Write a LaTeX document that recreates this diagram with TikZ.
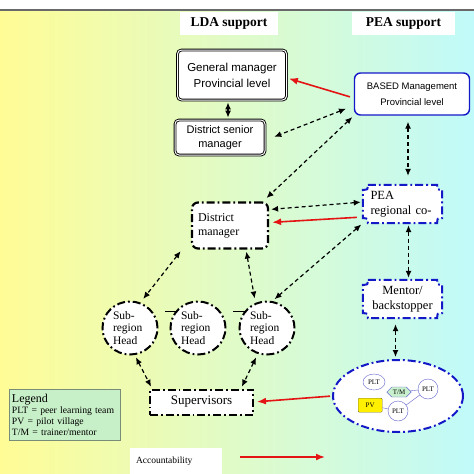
\documentclass[tikz,border=0pt]{standalone}
\usepackage{fontspec}
\setmainfont{Liberation Serif}
\setsansfont{Liberation Sans}
\usetikzlibrary{arrows.meta,positioning,shapes.geometric,shapes.symbols,backgrounds}
\definecolor{ldayellow}{RGB}{255,252,150}
\definecolor{midgreen}{RGB}{218,255,228}
\definecolor{peacyan}{RGB}{192,250,250}
\definecolor{titlegray}{RGB}{105,105,105}
\definecolor{peablue}{RGB}{20,25,200}
\definecolor{accred}{RGB}{228,20,20}
\definecolor{legendgreen}{RGB}{200,240,200}
\definecolor{legendedge}{RGB}{120,140,120}
\definecolor{pltblue}{RGB}{100,100,205}
\definecolor{tmgreen}{RGB}{200,240,205}
\definecolor{pvyellow}{RGB}{255,240,0}
\definecolor{pvedge}{RGB}{120,110,40}
\newcommand\concavepath[2]{%
  ([xshift=#2]#1.north west) -- ([xshift=-#2]#1.north east)
  .. controls ([xshift=-#2,yshift=-#2]#1.north east) .. ([yshift=-#2]#1.north east)
  -- ([yshift=#2]#1.south east)
  .. controls ([xshift=-#2,yshift=#2]#1.south east) .. ([xshift=-#2]#1.south east)
  -- ([xshift=#2]#1.south west)
  .. controls ([xshift=#2,yshift=#2]#1.south west) .. ([yshift=#2]#1.south west)
  -- ([yshift=-#2]#1.north west)
  .. controls ([xshift=#2,yshift=-#2]#1.north west) .. ([xshift=#2]#1.north west) -- cycle}
\tikzset{
    dashdot/.style={dash pattern=on 8pt off 3pt on 1.8pt off 3pt},
    headbox/.style={fill=white, minimum height=23pt, inner sep=2pt,
        font=\bfseries\fontsize{13.5}{15}\selectfont},
    provbox/.style={draw, fill=white, rounded corners=4pt, line width=0.9pt,
        double=white, double distance=1pt, align=center,
        font=\sffamily\fontsize{11.5}{16}\selectfont},
    basedbox/.style={draw=peablue, fill=white, rounded corners=6pt,
        line width=1.4pt, align=center, font=\sffamily\fontsize{9.5}{16}\selectfont},
    ldabox/.style={draw, dashdot, line width=2.2pt, fill=white, rounded corners=6pt,
        align=left, font=\fontsize{12}{14}\selectfont},
    peabox/.style={draw=none, font=\fontsize{12.5}{15}\selectfont},
    peaframe/.style={draw=peablue, dashdot, line width=2pt, fill=white},
    subhead/.style={ellipse, draw, dashdot, line width=2pt, fill=white,
        minimum width=55pt, minimum height=53pt, inner sep=0pt, text width=34pt,
        align=left, font=\fontsize{11.5}{12.5}\selectfont},
    supbox/.style={draw, dashdot, line width=2pt, fill=white,
        font=\fontsize{13}{15}\selectfont},
    legendbox/.style={draw=legendedge, fill=legendgreen, align=left, inner sep=3pt,
        font=\fontsize{9.7}{11}\selectfont},
    accbox/.style={fill=white, text width=80pt, align=left,
        font=\fontsize{9.5}{11}\selectfont},
    cluster/.style={ellipse, draw=peablue, dashdot, line width=2pt, fill=white},
    pltnode/.style={ellipse, draw=pltblue, thin, inner sep=0pt,
        font=\fontsize{7}{8}\selectfont},
    tmnode/.style={signal, signal to=east and west, draw=pltblue, fill=tmgreen,
        inner sep=1pt, minimum width=22pt, minimum height=10pt,
        font=\fontsize{7}{8}\selectfont},
    pvnode/.style={draw=pvedge, fill=pvyellow, rounded corners=1pt,
        minimum width=24pt, minimum height=14pt, inner sep=1pt,
        font=\fontsize{7}{8}\selectfont},
    linkarrow/.style={{Latex[length=7pt,width=6pt]}-{Latex[length=7pt,width=6pt]},
        line width=1.2pt, dash pattern=on 4pt off 3pt, shorten <=2pt, shorten >=2pt},
    accarrow/.style={-{Latex[length=9pt,width=7pt]}, accred, line width=1.6pt}
}
\begin{document}
\begin{tikzpicture}[x=1pt, y=-1pt]
    \useasboundingbox (0,0) rectangle (474,474);
    \begin{scope}[on background layer]
        \shade[left color=ldayellow, middle color=midgreen, right color=peacyan]
            (0,10) rectangle (474,474);
        \draw[line width=2pt, titlegray] (0,10) -- (474,10);
    \end{scope}

    % column headings
    \node[headbox, minimum width=98pt] (ldahead) at (229,23.5) {LDA support};
    \node[headbox, minimum width=103pt] (peahead) at (403.5,23.5) {PEA support};

    % LDA side
    \node[provbox, minimum width=109pt, minimum height=50pt] (gm) at (232,75)
        {General manager\\Provincial level};
    \node[provbox, minimum width=90pt, minimum height=35pt,
        font=\sffamily\fontsize{11}{14}\selectfont] (dsm) at (220,137.5)
        {District senior\\manager};
    \node[ldabox, minimum width=76pt, minimum height=46pt, text width=64pt]
        (dm) at (230,225.5) {District\\manager};
    \node[subhead] (sr1) at (130,328) {Sub-\\region\\Head};
    \node[subhead] (sr2) at (198,328) {Sub-\\region\\Head};
    \node[subhead] (sr3) at (267,328) {Sub-\\region\\Head};
    \draw[thin] (165,311) -- (177,311);
    \draw[thin] (233,311) -- (246,311);
    \node[supbox, minimum width=103pt, minimum height=25pt] (sup) at (201.5,402)
        {Supervisors};

    % PEA side
    \node[basedbox, minimum width=115pt, minimum height=42pt] (based) at (412,94)
        {BASED Management\\Provincial level};
    \node[peabox, minimum width=79pt, minimum height=38pt, text width=64pt,
        align=left] (pear) at (402.5,204) {PEA\\regional co-};
    \node[peabox, minimum width=79pt, minimum height=38pt, align=center]
        (mentor) at (402.5,299) {Mentor/\\backstopper};
    \begin{scope}[on background layer]
        \draw[peaframe] \concavepath{pear}{5pt};
        \draw[peaframe] \concavepath{mentor}{5pt};
    \end{scope}

    % peer learning cluster
    \node[cluster, minimum width=130pt, minimum height=72pt] (cluster) at (398,396) {};
    \node[pltnode, minimum width=22pt, minimum height=16pt] (plta) at (374,382) {PLT};
    \node[tmnode] (tm) at (399,392) {T/M};
    \node[pltnode, minimum size=20pt] (pltc) at (428,389) {PLT};
    \node[pvnode, anchor=north west, align=left] (pv) at (358,398) {PV};
    \node[pltnode, minimum size=20pt] (pltb) at (398,411) {PLT};
    \draw[pltblue, thin] (tm) -- (pltc);
    \draw[pltblue, thin] (pltb) -- (pltc);
    \draw[pltblue, thin] (pv) -- (pltb);

    % legend and key
    \node[legendbox, minimum width=111pt, minimum height=51pt, text width=105pt]
        (legend) at (64.5,414.5)
        {{\fontsize{12}{13}\selectfont Legend}\\PLT = peer learning team\\
         PV = pilot village\\T/M = trainer/mentor};
    \node[accbox, minimum width=92pt, minimum height=26pt] (acc) at (176,461)
        {Accountability};
    \coordinate (accstart) at (240,457);
    \coordinate (accend) at (325,457);
    \draw[accarrow] (accstart) -- (accend);

    % links
    \draw[linkarrow] ([xshift=-4pt]gm.south) -- ([xshift=-4pt]gm.south |- dsm.north);
    \draw[linkarrow] ([xshift=-6pt,yshift=-14pt]based.west) -- ([xshift=7pt]dsm.east);
    \draw[linkarrow] (based.south west) -- ([xshift=-4pt,yshift=2pt]dm.north east);
    \draw[linkarrow, shorten <=6pt, shorten >=9pt] ([xshift=-4pt]based.south)
        -- ([xshift=-4pt]based.south |- pear.north);
    \draw[linkarrow] ([yshift=2pt]pear.west) -- ([yshift=16pt]dm.east);
    \draw[linkarrow] (pear.south west) -- ([xshift=6pt]sr3.north);
    \draw[linkarrow] ([xshift=6pt]pear.south) -- ([xshift=6pt]pear.south |- mentor.north);
    \draw[linkarrow, shorten <=6pt] ([xshift=-7pt]mentor.south)
        -- ([xshift=-7pt]mentor.south |- cluster.north);
    \draw[linkarrow] ([xshift=-9pt]dm.south west) -- ([xshift=12pt]sr1.north);
    \draw[linkarrow] ([xshift=16pt]dm.south) -- ([xshift=-12pt]sr3.north);
    \draw[linkarrow] ([xshift=5pt]sr1.south) -- ([xshift=3pt]sup.north west);
    \draw[linkarrow] ([xshift=-10pt]sr3.south) -- ([xshift=-13pt]sup.north east);

    % accountability lines
    \draw[accarrow, shorten <=4pt, shorten >=2pt] ([yshift=-4pt]based.west)
        -- ([yshift=-3pt]gm.east);
    \draw[accarrow, shorten <=6pt, shorten >=3pt] ([yshift=-13pt]pear.west)
        -- ([yshift=3pt]dm.east);
    \draw[accarrow, shorten <=2pt, shorten >=3pt] (cluster.west) -- (sup.east);
\end{tikzpicture}
\end{document}
